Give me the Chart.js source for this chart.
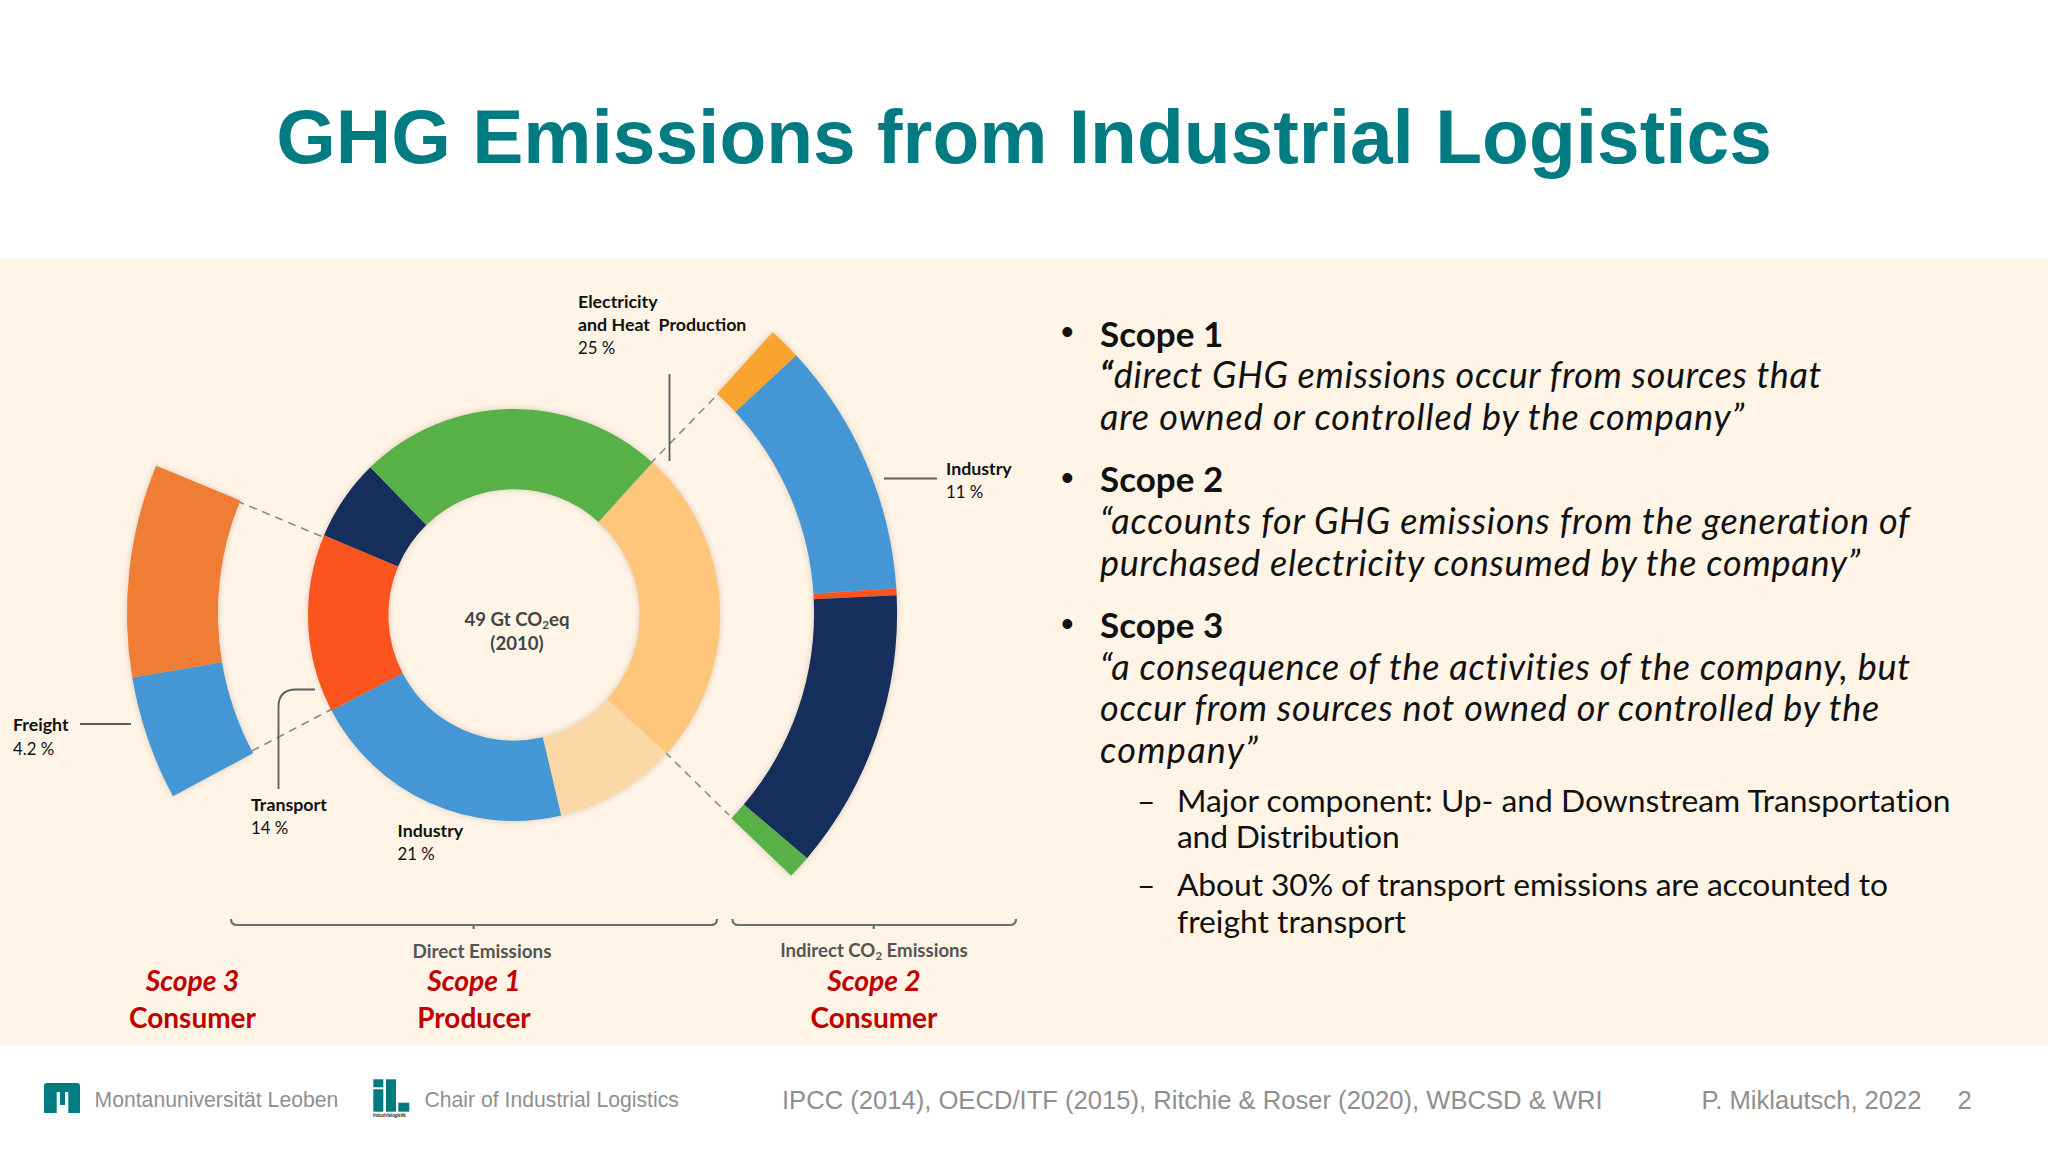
<!DOCTYPE html>
<html><head><meta charset="utf-8">
<script src="https://cdn.jsdelivr.net/npm/chart.js@4"></script>
<style>
html,body{margin:0;padding:0;background:#fff;width:2048px;height:1152px;overflow:hidden}
#band{position:absolute;left:0;top:259px;width:2048px;height:786px;background:#fff4e6}
canvas{position:absolute;filter:drop-shadow(0 0 3px rgba(120,100,80,.3))}
svg{position:absolute;left:0;top:0}
.t{position:absolute;white-space:nowrap;line-height:1;transform:translateY(-50%)}
.c{transform:translate(-50%,-50%)}
sub{font-size:.62em;vertical-align:baseline;position:relative;top:.3em;line-height:0}
</style></head><body>
<div id="band"></div>
<svg id="ann" width="2048" height="1152" fill="none"></svg>
<div id="txt"></div>
<script>
// Main ring (% of total emissions), clockwise starting at the electricity slice
const sectorNames  = ["Electricity and Heat Production","Other Energy","Industry","Transport","Buildings","AFOLU"];
const sectorValues = [25, 9.6, 21, 14, 6.4, 24];
const sectorColors = ["#fec67a","#fcd8a6","#4496d4","#fc541e","#152e5c","#57b147"];
// Right arc: electricity and heat re-allocated to consumers
const indirectNames  = ["Energy","Industry","Transport","Buildings","AFOLU"];
const indirectValues = [1.4, 10.9, 0.3, 12.0, 1.0];
const indirectColors = ["#f9a42f","#4496d4","#fc541e","#152e5c","#57b147"];
// Left arc: transport split, clockwise from the bottom
const transportNames  = ["Freight","Passenger"];
const transportValues = [5.2, 8.9];
const transportColors = ["#4496d4","#ef7d33"];

function ring(cx,cy,R,cut,rot,circ,labels,data,colors){
  const s=(rot-90)*Math.PI/180,e=s+circ*Math.PI/180,c=cut/100;
  const has=a=>{for(let k=-2;k<=2;k++){const v=a+k*2*Math.PI;if(v>=s&&v<=e)return true}return false};
  const sx=Math.cos(s),sy=Math.sin(s),ex=Math.cos(e),ey=Math.sin(e);
  const maxX=has(0)?1:Math.max(sx,sx*c,ex,ex*c),maxY=has(Math.PI/2)?1:Math.max(sy,sy*c,ey,ey*c);
  const minX=has(Math.PI)?-1:Math.min(sx,sx*c,ex,ex*c),minY=has(1.5*Math.PI)?-1:Math.min(sy,sy*c,ey,ey*c);
  const m=8,cv=document.createElement('canvas');
  const bx=(cx+minX*R+cx+maxX*R)/2,by=(cy+minY*R+cy+maxY*R)/2;
  const hw=Math.ceil((maxX-minX)*R/2+m),hh=Math.ceil((maxY-minY)*R/2+m);
  cv.width=2*hw;cv.height=2*hh;cv.style.left=(bx-hw)+'px';cv.style.top=(by-hh)+'px';
  cv.style.width=2*hw+'px';cv.style.height=2*hh+'px';
  document.body.appendChild(cv);
  new Chart(cv,{type:'doughnut',data:{labels,datasets:[{data,backgroundColor:colors,borderWidth:0,hoverBorderWidth:0,hoverOffset:0}]},
    options:{responsive:false,animation:false,devicePixelRatio:1,rotation:rot,circumference:circ,radius:R,cutout:cut+'%',
      layout:{padding:0},events:[],plugins:{legend:{display:false},tooltip:{enabled:false}}}});
}
ring(514,615,206,61,42.2,360,sectorNames,sectorValues,sectorColors);
ring(518,613,379,78.1,42.2,91.7,indirectNames,indirectValues,indirectColors);
ring(513.5,613,387,76.5,241.8,50.6,transportNames,transportValues,transportColors);

// annotation lines
const ann=document.getElementById('ann');
function path(d,stroke,w,dash){const p=document.createElementNS('http://www.w3.org/2000/svg','path');p.setAttribute('d',d);p.setAttribute('stroke',stroke);p.setAttribute('stroke-width',w);if(dash)p.setAttribute('stroke-dasharray',dash);ann.appendChild(p)}
path('M236.5 500.8L323 537','#8f8a84',1.6,'8 6');
path('M252 751L332 709','#8f8a84',1.6,'8 6');
path('M650 464L717 395','#8f8a84',1.6,'8 6');
path('M665 752L729 815','#8f8a84',1.6,'8 6');
path('M669.5 374V461','#5c5c5c',1.8);
path('M884 478.5H937','#5c5c5c',1.8);
path('M80 724H131','#5c5c5c',1.8);
path('M278.5 789V707Q278.5 689.5 296 689.5H315','#5c5c5c',1.8);
path('M231 919Q231 925 237 925H711Q717 925 717 919M473.6 925V929','#6f6f6f',2.2);
path('M732.5 919Q732.5 925 738 925H1010Q1016 925 1016 919M873.7 925V929','#6f6f6f',2.2);
// logos
const TEAL='#007b82';
ann.insertAdjacentHTML('beforeend',`<g fill="${TEAL}">
<path fill-rule="evenodd" d="M44 1086Q44 1083 47 1083H77Q80 1083 80 1086V1113H68.3V1092H65V1105H60V1092H56.7V1113H44Z"/>
<rect x="373.3" y="1079.3" width="10" height="8"/><rect x="373.3" y="1089.3" width="10" height="22.4"/>
<rect x="386" y="1079.3" width="10" height="32.4"/><rect x="398.3" y="1102.7" width="11" height="9"/></g>`);

const txt=document.getElementById('txt');
function T(html,x,y,size,opt={}){const d=document.createElement('div');d.className='t'+(opt.center?' c':'');d.innerHTML=html;
  d.style.cssText=`left:${x}px;top:${y}px;font:${opt.style||''} ${opt.weight||400} ${size}px ${opt.font||'Lato'};color:${opt.color||'#111'};`;txt.appendChild(d);
  if(opt.w){const n=d.textContent.length;d.style.letterSpacing=((opt.w-d.getBoundingClientRect().width)/n)+'px'}}
const AR='"Liberation Sans"';
T('GHG Emissions from Industrial Logistics',1024,137,76.7,{center:1,weight:700,font:AR,color:TEAL});
// chart labels
[['Electricity',578,301,1],['and Heat&nbsp; Production',578,324,1],['25 %',578,347,0],
 ['Industry',946,468,1],['11 %',946,491,0],['Freight',13,724,1],['4.2 %',13,748,0],
 ['Transport',251,804,1],['14 %',251,827,0],['Industry',397.5,830,1],['21 %',397.5,853,0]]
 .forEach(([s,x,y,b])=>T(s,x,y,b?17.8:16.8,{weight:b?700:400}));
T('49 Gt CO<sub>2</sub>eq',517,618.5,18.6,{center:1,weight:700,color:'#444'});
T('(2010)',517,643,18.6,{center:1,weight:700,color:'#444'});
T('Direct Emissions',482,949.5,18.9,{center:1,weight:700,color:'#555'});
T('Indirect CO<sub>2</sub> Emissions',874,949.5,18.6,{center:1,weight:700,color:'#555'});
const RED='#c00000';
[['Scope 3','Consumer',192.5],['Scope 1','Producer',474],['Scope 2','Consumer',874]].forEach(([a,b,x])=>{
  T(a,x,980,28.3,{center:1,weight:700,style:'italic',color:RED});
  T(b,x,1016.5,28,{center:1,weight:700,color:RED});
});
// right column
[334,480,626].forEach(y=>T('•',1061,y-2,36,{font:AR}));
T('Scope 1',1100,332.5,35,{weight:700});
T('<b>“</b>direct GHG emissions occur from sources that',1100,374,36,{style:'italic',w:722});
T('are owned or controlled by the company”',1100,415.5,36,{style:'italic',w:645});
T('Scope 2',1100,478,35,{weight:700});
T('“accounts for GHG emissions from the generation of',1100,519.5,36,{style:'italic',w:810});
T('purchased electricity consumed by the company”',1100,561.5,36,{style:'italic',w:761});
T('Scope 3',1100,624,35,{weight:700});
T('“a consequence of the activities of the company, but',1100,665.5,36,{style:'italic',w:810});
T('occur from sources not owned or controlled by the',1100,706.5,36,{style:'italic',w:780});
T('company”',1100,748.5,36,{style:'italic',w:159});
T('–',1137,800,31.8);T('–',1137,884,31.8);
T('Major component: Up- and Downstream Transportation',1177,800,31.8,{w:774});
T('and Distribution',1177,836,31.8,{w:223});
T('About 30% of transport emissions are accounted to',1177,884,31.8,{w:711});
T('freight transport',1177,920.5,31.8,{w:229});
// footer
const G='#8f8f8f';
T('industrielogistik',373,1115,4.6,{color:'#222',weight:700});
T('Montanuniversität Leoben',94.5,1100,21.2,{font:AR,color:G});
T('Chair of Industrial Logistics',424.5,1100,21.2,{font:AR,color:G});
T('IPCC (2014), OECD/ITF (2015), Ritchie &amp; Roser (2020), WBCSD &amp; WRI',782,1100,25.6,{font:AR,color:G});
T('P. Miklautsch, 2022',1701.5,1100,25.6,{font:AR,color:G});
T('2',1957.5,1100,25.6,{font:AR,color:G});
</script></body></html>
